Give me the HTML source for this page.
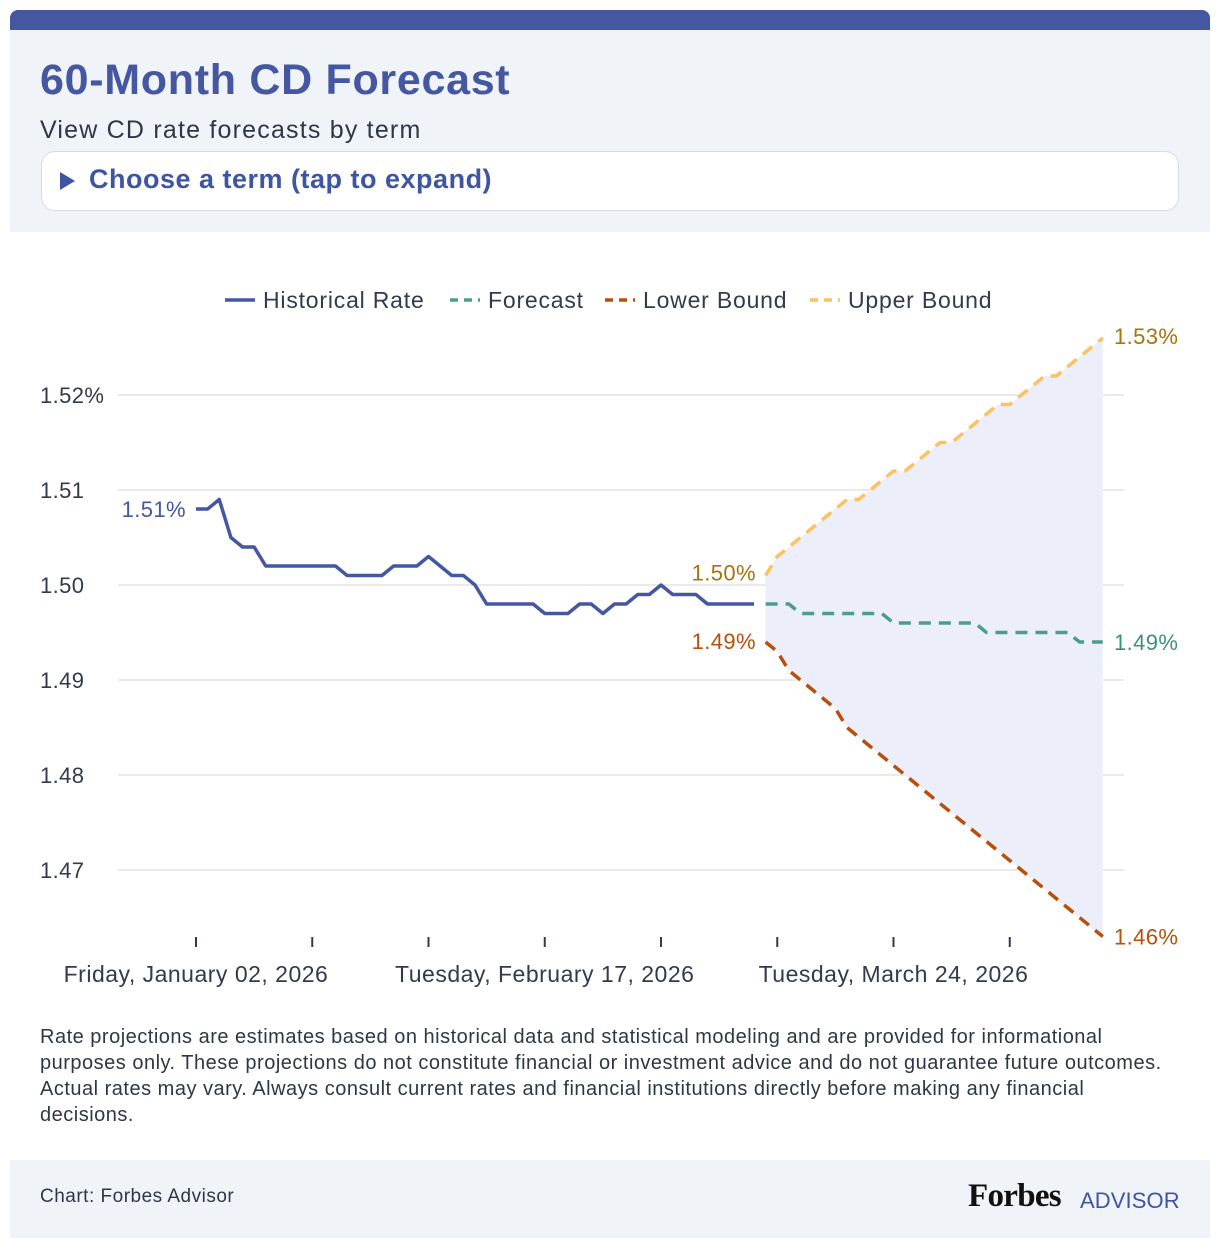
<!DOCTYPE html>
<html><head><meta charset="utf-8">
<style>
body{margin:0;background:#fff;font-family:"Liberation Sans",sans-serif;width:1220px;height:1248px;position:relative;overflow:hidden}
.hdr{position:absolute;left:10px;top:10px;width:1200px;height:222px;background:#f0f3f8;border-radius:8px 8px 0 0;overflow:hidden}
.bar{position:absolute;left:0;top:0;width:1200px;height:20px;background:#4457a0}
.title{position:absolute;left:30px;top:46px;font-size:43px;font-weight:bold;color:#4457a0;letter-spacing:0.7px}
.sub{position:absolute;left:30px;top:106px;font-size:25px;color:#2f3646;letter-spacing:1.2px}
.btn{position:absolute;left:31px;top:141px;width:1136px;height:58px;background:#fff;border:1.5px solid #d6dbe6;border-radius:14px}
.btn span{position:absolute;left:47px;top:12px;font-size:27px;font-weight:bold;color:#3d55a3;letter-spacing:0.5px}
.tri{position:absolute;left:18px;top:20px;width:0;height:0;border-left:15px solid #3d55a3;border-top:9px solid transparent;border-bottom:9px solid transparent}
.disc{position:absolute;left:40px;top:1024px;width:1140px;font-size:20px;line-height:26px;color:#2f3646;letter-spacing:0.5px}
.foot{position:absolute;left:10px;top:1160px;width:1200px;height:78px;background:#f0f3f8}
.foot .src{position:absolute;left:30px;top:26px;font-size:19px;color:#2f3646;letter-spacing:0.5px}
.foot .fb{position:absolute;left:958px;top:18px;font-family:"Liberation Serif",serif;font-weight:bold;font-size:33px;color:#111;letter-spacing:-0.7px}
.foot .adv{position:absolute;left:1070px;top:28px;font-size:22px;color:#3d55a3;letter-spacing:0.1px}
</style></head><body>
<div class="hdr">
<div class="bar"></div>
<div class="title">60-Month CD Forecast</div>
<div class="sub">View CD rate forecasts by term</div>
<div class="btn"><div class="tri"></div><span>Choose a term (tap to expand)</span></div>
</div>
<svg id="chart" width="1220" height="1010" style="position:absolute;left:0;top:0"></svg>
<div class="disc">Rate projections are estimates based on historical data and statistical modeling and are provided for informational purposes only. These projections do not constitute financial or investment advice and do not guarantee future outcomes. Actual rates may vary. Always consult current rates and financial institutions directly before making any financial decisions.</div>
<div class="foot">
<div class="src">Chart: Forbes Advisor</div>
<div class="fb">Forbes</div>
<div class="adv">ADVISOR</div>
</div>
<script>
const historical=[1.508,1.508,1.509,1.505,1.504,1.504,1.502,1.502,1.502,1.502,1.502,1.502,1.502,1.501,1.501,1.501,1.501,1.502,1.502,1.502,1.503,1.502,1.501,1.501,1.500,1.498,1.498,1.498,1.498,1.498,1.497,1.497,1.497,1.498,1.498,1.497,1.498,1.498,1.499,1.499,1.500,1.499,1.499,1.499,1.498,1.498,1.498,1.498,1.498];
const forecast=[1.498,1.498,1.498,1.497,1.497,1.497,1.497,1.497,1.497,1.497,1.497,1.496,1.496,1.496,1.496,1.496,1.496,1.496,1.496,1.495,1.495,1.495,1.495,1.495,1.495,1.495,1.495,1.494,1.494,1.494];
const upper=[1.501,1.503,1.504,1.505,1.506,1.507,1.508,1.509,1.509,1.510,1.511,1.512,1.512,1.513,1.514,1.515,1.515,1.516,1.517,1.518,1.519,1.519,1.520,1.521,1.522,1.522,1.523,1.524,1.525,1.526];
const lower=[1.494,1.493,1.491,1.490,1.489,1.488,1.487,1.485,1.484,1.483,1.482,1.481,1.480,1.479,1.478,1.477,1.476,1.475,1.474,1.473,1.472,1.471,1.470,1.469,1.468,1.467,1.466,1.465,1.464,1.463];
const yTicks=[1.52,1.51,1.50,1.49,1.48,1.47];
const yTickLabels=["1.52%","1.51","1.50","1.49","1.48","1.47"];
const xTickIdx=[0,10,20,30,40,50,60,70];
const xLabels=[{i:0,t:"Friday, January 02, 2026"},{i:30,t:"Tuesday, February 17, 2026"},{i:60,t:"Tuesday, March 24, 2026"}];
const X=i=>196+i*11.625;
const Y=v=>585-(v-1.50)*9500;
const svg=document.getElementById('chart');const NS='http://www.w3.org/2000/svg';
function mk(tag,attrs,txt){const e=document.createElementNS(NS,tag);for(const k in attrs)e.setAttribute(k,attrs[k]);if(txt!==undefined)e.textContent=txt;svg.appendChild(e);return e;}
const F='"Liberation Sans",sans-serif';
yTicks.forEach((v,k)=>{
 const g=mk('line',{x1:118,x2:1124,y1:Y(v),y2:Y(v),stroke:'#e4e4e4','stroke-width':1.5});
 
 
 const t=mk('text',{x:40,y:Y(v)+8,'font-size':22,'letter-spacing':0.4,fill:'#333a4d','font-family':F},yTickLabels[k]);
 
 
});
const fo=historical.length;
let pts=upper.map((v,k)=>X(fo+k)+','+Y(v));
for(let k=lower.length-1;k>=0;k--)pts.push(X(fo+k)+','+Y(lower[k]));
const band=mk('polygon',{points:pts.join(' '),fill:'#eceffa'});


function line(arr,off,color,dash,name){
 const p=mk('polyline',{points:arr.map((v,k)=>X(off+k)+','+Y(v)).join(' '),fill:'none',stroke:color,'stroke-width':3.5,'stroke-linejoin':'round','stroke-dasharray':dash||'none'});
 
 
}
line(historical,0,'#4457a0',null,'historical-line');
line(forecast,fo,'#4a9e8c','12 8','forecast-line');
line(lower,fo,'#b8500c','12 8','lower-bound-line');
line(upper,fo,'#fbc262','12 8','upper-bound-line');
xTickIdx.forEach(i=>{const t=mk('line',{x1:X(i),x2:X(i),y1:937,y2:947,stroke:'#333a4d','stroke-width':2});
 
 });
xLabels.forEach(o=>{const t=mk('text',{x:X(o.i),y:982,'text-anchor':'middle','font-size':23,'letter-spacing':0.5,fill:'#333a4d','font-family':F},o.t);
 
 });
function lbl(x,y,txt,col,anchor,name){const t=mk('text',{x:x,y:y+8,'font-size':22,'letter-spacing':0.4,fill:col,'text-anchor':anchor,'font-family':F},txt);
 
 }
lbl(186,Y(historical[0]),(historical[0]).toFixed(2)+'%','#4457a0','end','historical-start-label');
lbl(756,Y(upper[0])-3,upper[0].toFixed(2)+'%','#a8720d','end','upper-start-label');
lbl(756,Y(lower[0])-1,lower[0].toFixed(2)+'%','#b8500c','end','lower-start-label');
lbl(1114,Y(upper[upper.length-1])-2,upper[upper.length-1].toFixed(2)+'%','#a8720d','start','upper-end-label');
lbl(1114,Y(forecast[forecast.length-1]),forecast[forecast.length-1].toFixed(2)+'%','#3d8f7c','start','forecast-end-label');
lbl(1114,Y(lower[lower.length-1]),lower[lower.length-1].toFixed(2)+'%','#b8500c','start','lower-end-label');
const leg=[{x:225,c:'#4457a0',d:null,t:'Historical Rate'},{x:450,c:'#4a9e8c',d:'8 6',t:'Forecast'},{x:605,c:'#b8500c',d:'8 6',t:'Lower Bound'},{x:810,c:'#fbc262',d:'8 6',t:'Upper Bound'}];
leg.forEach(o=>{const l=mk('line',{x1:o.x,x2:o.x+30,y1:300,y2:300,stroke:o.c,'stroke-width':3.5,'stroke-dasharray':o.d||'none'});
 
 
 const t=mk('text',{x:o.x+38,y:308,'font-size':23,'letter-spacing':0.8,fill:'#333a4d','font-family':F},o.t);
 
 });
</script>
</body></html>
